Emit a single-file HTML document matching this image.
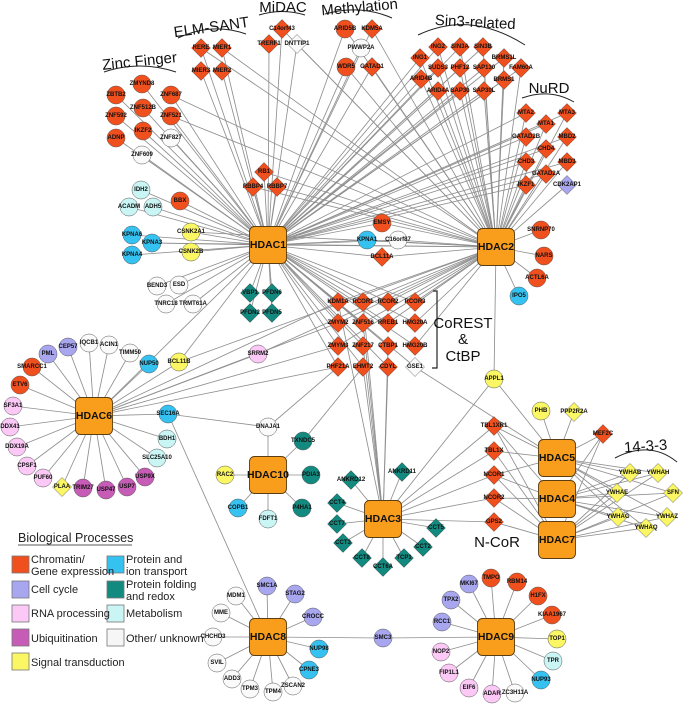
<!DOCTYPE html>
<html><head><meta charset="utf-8"><style>
html,body{margin:0;padding:0;background:#fff}
svg{display:block}
text{font-family:"Liberation Sans",sans-serif}
.n{font-size:6px;font-weight:bold;text-anchor:middle;dominant-baseline:central;fill:#111}
.h{font-size:10.5px;font-weight:bold;text-anchor:middle;dominant-baseline:central;fill:#111}
.g{font-size:15px;fill:#111}
.lg{font-size:11px;fill:#222}
</style></head><body>
<svg id="s" width="685" height="706" viewBox="0 0 685 706" xmlns="http://www.w3.org/2000/svg">
<g id="E" stroke="#8f8f8f" stroke-width="0.85" fill="none"></g>
<g id="S" stroke="#555" stroke-width="0.5"></g>
<g id="T">
<text class="h" x="268" y="245">HDAC1</text>
<text class="h" x="496" y="247">HDAC2</text>
<text class="h" x="94" y="416">HDAC6</text>
<text class="h" x="268" y="475">HDAC10</text>
<text class="h" x="383" y="519">HDAC3</text>
<text class="h" x="557" y="458">HDAC5</text>
<text class="h" x="557" y="499">HDAC4</text>
<text class="h" x="557" y="540">HDAC7</text>
<text class="h" x="268" y="637">HDAC8</text>
<text class="h" x="496" y="637">HDAC9</text>
<text class="n r" x="142" y="84">ZMYND8</text>
<text class="n r" x="116" y="95">ZBTB2</text>
<text class="n r" x="171" y="95">ZNF687</text>
<text class="n r" x="143" y="108">ZNF512B</text>
<text class="n r" x="116" y="116">ZNF592</text>
<text class="n r" x="171" y="116">ZNF521</text>
<text class="n r" x="143" y="131">IKZF2</text>
<text class="n r" x="116" y="138">ADNP</text>
<text class="n w" x="171" y="138">ZNF827</text>
<text class="n w" x="142" y="155">ZNF609</text>
<text class="n r d" x="201" y="48">RERE</text>
<text class="n r d" x="222" y="48">MIER1</text>
<text class="n r d" x="201" y="71">MIER3</text>
<text class="n r d" x="222" y="71">MIER2</text>
<text class="n r d" x="282" y="29">C14orf43</text>
<text class="n r d" x="269" y="44">TRERF1</text>
<text class="n w d" x="297" y="44">DNTTIP1</text>
<text class="n r" x="345" y="29">ARID5B</text>
<text class="n r d" x="372" y="29">KDM5A</text>
<text class="n w" x="361" y="48">PWWP2A</text>
<text class="n r" x="346" y="67">WDR5</text>
<text class="n r d" x="372" y="67">GATAD1</text>
<text class="n r d" x="438" y="47">ING2</text>
<text class="n r d" x="460" y="47">SIN3A</text>
<text class="n r d" x="483" y="47">SIN3B</text>
<text class="n r d" x="420" y="58">ING1</text>
<text class="n r d" x="438" y="68">SUDS3</text>
<text class="n r d" x="460" y="68">PHF12</text>
<text class="n r d" x="484" y="68">SAP130</text>
<text class="n r d" x="504" y="58">BRMS1L</text>
<text class="n r d" x="521" y="68">FAM60A</text>
<text class="n r d" x="421" y="79">ARID4B</text>
<text class="n r d" x="438" y="91">ARID4A</text>
<text class="n r d" x="460" y="91">SAP30</text>
<text class="n r d" x="484" y="91">SAP30L</text>
<text class="n r d" x="504" y="80">BRMS1</text>
<text class="n r d" x="526" y="113">MTA2</text>
<text class="n r d" x="567" y="113">MTA3</text>
<text class="n r d" x="546" y="124">MTA1</text>
<text class="n r d" x="526" y="137">GATAD2B</text>
<text class="n r d" x="567" y="137">MBD2</text>
<text class="n r d" x="546" y="149">CHD4</text>
<text class="n r d" x="526" y="162">CHD3</text>
<text class="n r d" x="567" y="162">MBD3</text>
<text class="n r d" x="546" y="174">GATAD2A</text>
<text class="n r d" x="526" y="185">IKZF1</text>
<text class="n c d" x="567" y="185">CDK2AP1</text>
<text class="n r" x="541" y="230">SNRNP70</text>
<text class="n r" x="544" y="256">NARS</text>
<text class="n r" x="537" y="278">ACTL6A</text>
<text class="n b" x="519" y="296">IPO5</text>
<text class="n r" x="382" y="223">EMSY</text>
<text class="n b" x="367" y="240">KPNA1</text>
<text class="n w" x="398" y="240">C16orf87</text>
<text class="n r d" x="382" y="257">BCL11A</text>
<text class="n r d" x="264" y="172">RB1</text>
<text class="n r d" x="253" y="187">RBBP4</text>
<text class="n r d" x="277" y="187">RBBP7</text>
<text class="n m" x="141" y="190">IDH2</text>
<text class="n m" x="129" y="207">ACADM</text>
<text class="n m" x="153" y="207">ADH5</text>
<text class="n r" x="180" y="201">BBX</text>
<text class="n b" x="132" y="235">KPNA6</text>
<text class="n b" x="152" y="243">KPNA3</text>
<text class="n b" x="132" y="255">KPNA4</text>
<text class="n y" x="191" y="232">CSNK2A1</text>
<text class="n y" x="191" y="252">CSNK2B</text>
<text class="n w" x="157" y="286">BEND3</text>
<text class="n w" x="179" y="285">ESD</text>
<text class="n w" x="166" y="304">TNRC18</text>
<text class="n w" x="193" y="304">TRMT61A</text>
<text class="n t d" x="250" y="293">VBP1</text>
<text class="n t d" x="272" y="293">PFDN6</text>
<text class="n t d" x="250" y="313">PFDN2</text>
<text class="n t d" x="272" y="313">PFDN5</text>
<text class="n r d" x="338" y="302">KDM1A</text>
<text class="n r d" x="363" y="302">RCOR1</text>
<text class="n r d" x="388" y="302">RCOR2</text>
<text class="n r d" x="415" y="302">RCOR3</text>
<text class="n r d" x="338" y="323">ZMYM2</text>
<text class="n r d" x="363" y="323">ZNF516</text>
<text class="n r d" x="388" y="323">RREB1</text>
<text class="n r d" x="415" y="323">HMG20A</text>
<text class="n r d" x="338" y="346">ZMYM3</text>
<text class="n r d" x="363" y="346">ZNF217</text>
<text class="n r d" x="388" y="346">CTBP1</text>
<text class="n r d" x="415" y="346">HMG20B</text>
<text class="n r d" x="338" y="367">PHF21A</text>
<text class="n r d" x="363" y="367">EHMT2</text>
<text class="n r d" x="388" y="367">CDYL</text>
<text class="n w d" x="415" y="367">GSE1</text>
<text class="n p" x="258" y="354">SRRM2</text>
<text class="n c" x="68" y="347">CEP57</text>
<text class="n w" x="89" y="343">IQCB1</text>
<text class="n w" x="109" y="345">ACIN1</text>
<text class="n w" x="130" y="353">TIMM50</text>
<text class="n b" x="149" y="364">NUP50</text>
<text class="n y" x="179" y="362">BCL11B</text>
<text class="n c" x="48" y="354">PML</text>
<text class="n r" x="32" y="367">SMARCC1</text>
<text class="n r" x="20" y="385">ETV6</text>
<text class="n p" x="13" y="406">SF3A1</text>
<text class="n p" x="10" y="427">DDX41</text>
<text class="n p" x="17" y="447">DDX19A</text>
<text class="n p" x="27" y="466">CPSF1</text>
<text class="n p" x="43" y="478">PUF60</text>
<text class="n y d" x="62" y="487">PLAA</text>
<text class="n u" x="83" y="488">TRIM27</text>
<text class="n u" x="106" y="490">USP47</text>
<text class="n u" x="127" y="487">USP7</text>
<text class="n u" x="145" y="477">USP9X</text>
<text class="n m" x="157" y="458">SLC25A10</text>
<text class="n m" x="167" y="439">BDH1</text>
<text class="n b" x="168" y="414">SEC16A</text>
<text class="n w" x="268" y="427">DNAJA1</text>
<text class="n t" x="303" y="441">TXNDC5</text>
<text class="n t" x="311" y="475">PDIA3</text>
<text class="n t" x="302" y="508">P4HA1</text>
<text class="n m" x="268" y="519">FDFT1</text>
<text class="n b" x="238" y="508">COPB1</text>
<text class="n y" x="225" y="475">RAC2</text>
<text class="n y" x="494" y="379">APPL1</text>
<text class="n y" x="541" y="411">PHB</text>
<text class="n y d" x="574" y="412">PPP2R2A</text>
<text class="n r d" x="603" y="434">MEF2C</text>
<text class="n r d" x="494" y="426">TBL1XR1</text>
<text class="n r d" x="494" y="451">TBL1X</text>
<text class="n r d" x="494" y="475">NCOR1</text>
<text class="n r d" x="494" y="498">NCOR2</text>
<text class="n r d" x="494" y="522">GPS2</text>
<text class="n t d" x="402" y="472">ANKRD11</text>
<text class="n t d" x="351" y="480">ANKRD12</text>
<text class="n t d" x="337" y="503">CCT4</text>
<text class="n t d" x="337" y="524">CCT7</text>
<text class="n t d" x="343" y="543">CCT3</text>
<text class="n t d" x="362" y="558">CCT8</text>
<text class="n t d" x="383" y="567">CCT6A</text>
<text class="n t d" x="404" y="558">TCP1</text>
<text class="n t d" x="423" y="547">CCT2</text>
<text class="n t d" x="436" y="528">CCT5</text>
<text class="n y d" x="630" y="473">YWHAB</text>
<text class="n y d" x="658" y="473">YWHAH</text>
<text class="n y d" x="617" y="493">YWHAE</text>
<text class="n y d" x="673" y="493">SFN</text>
<text class="n y d" x="618" y="517">YWHAG</text>
<text class="n y d" x="667" y="517">YWHAZ</text>
<text class="n y d" x="646" y="528">YWHAQ</text>
<text class="n c" x="267" y="586">SMC1A</text>
<text class="n c" x="295" y="594">STAG2</text>
<text class="n c" x="313" y="617">CROCC</text>
<text class="n b" x="319" y="649">NUP98</text>
<text class="n b" x="309" y="670">CPNE3</text>
<text class="n w" x="293" y="686">ZSCAN2</text>
<text class="n w" x="273" y="692">TPM4</text>
<text class="n w" x="250" y="689">TPM3</text>
<text class="n w" x="232" y="679">ADD3</text>
<text class="n w" x="217" y="663">SVIL</text>
<text class="n w" x="213" y="637">CHCHD3</text>
<text class="n w" x="221" y="613">MME</text>
<text class="n w" x="236" y="596">MDM1</text>
<text class="n c" x="383" y="638">SMC3</text>
<text class="n c" x="469" y="584">MKI67</text>
<text class="n r" x="491" y="578">TMPO</text>
<text class="n r" x="517" y="582">RBM14</text>
<text class="n r" x="538" y="596">H1FX</text>
<text class="n r" x="552" y="615">KIAA1967</text>
<text class="n y" x="557" y="639">TOP1</text>
<text class="n m" x="553" y="661">TPR</text>
<text class="n b" x="541" y="680">NUP93</text>
<text class="n w" x="515" y="693">ZC3H11A</text>
<text class="n p" x="492" y="694">ADAR</text>
<text class="n p" x="469" y="688">EIF6</text>
<text class="n p" x="449" y="673">FIP1L1</text>
<text class="n p" x="441" y="652">NOP2</text>
<text class="n c" x="442" y="622">RCC1</text>
<text class="n c" x="451" y="600">TPX2</text>
</g>
<g fill="none" stroke="#222" stroke-width="1">
<path d="M104 72 Q140 60 176 72"/>
<path d="M178 38 Q212 22 246 34"/>
<path d="M259 15 Q282 8 305 15"/>
<path d="M325 14 Q360 4 392 18"/>
<path d="M418 35 Q470 10 525 45"/>
<path d="M522 98 Q550 88 574 102"/>
<path d="M615 458 Q650 440 677 462"/>
<path d="M433 291 L437 291 L437 368 L432 368" stroke-width="1.2"/>
</g>
<text class="g" x="140" y="66" text-anchor="middle" transform="rotate(-6 140 66)">Zinc Finger</text>
<text class="g" x="212" y="32" text-anchor="middle" transform="rotate(-8 212 32)">ELM-SANT</text>
<text class="g" x="283" y="12" text-anchor="middle">MiDAC</text>
<text class="g" x="360" y="12" text-anchor="middle" transform="rotate(-5 360 12)">Methylation</text>
<text class="g" x="475" y="27" text-anchor="middle" transform="rotate(3 475 27)">Sin3-related</text>
<text class="g" x="549" y="93" text-anchor="middle">NuRD</text>
<text class="g" x="646" y="451" text-anchor="middle" transform="rotate(-4 646 451)">14-3-3</text>
<text class="g" x="463" y="328" text-anchor="middle">CoREST</text>
<text class="g" x="463" y="344" text-anchor="middle">&amp;</text>
<text class="g" x="463" y="361" text-anchor="middle">CtBP</text>
<text class="g" x="497" y="547" text-anchor="middle">N-CoR</text>
<text x="18" y="542" style="font-size:12.5px" fill="#222">Biological Processes</text>
<line x1="18" y1="545" x2="132" y2="545" stroke="#222" stroke-width="0.8"/>
<g stroke="#777" stroke-width="0.8">
<rect x="12" y="556" width="17" height="17" fill="#f0501e"/>
<rect x="12" y="581" width="17" height="17" fill="#a9a6f0"/>
<rect x="12" y="605" width="17" height="17" fill="#fcc9f7"/>
<rect x="12" y="629" width="17" height="17" fill="#c75cb6"/>
<rect x="12" y="653" width="17" height="17" fill="#fbf764"/>
<rect x="107" y="556" width="17" height="17" fill="#35c2f0"/>
<rect x="107" y="581" width="17" height="17" fill="#138a80"/>
<rect x="107" y="605" width="17" height="17" fill="#c9f5f5"/>
<rect x="107" y="629" width="17" height="17" fill="#f6f6f6"/>
</g>
<text class="lg" x="31" y="563">Chromatin/</text>
<text class="lg" x="31" y="575">Gene expression</text>
<text class="lg" x="31" y="593">Cell cycle</text>
<text class="lg" x="31" y="617">RNA processing</text>
<text class="lg" x="31" y="642">Ubiquitination</text>
<text class="lg" x="31" y="666">Signal transduction</text>
<text class="lg" x="126" y="563">Protein and</text>
<text class="lg" x="126" y="575">ion transport</text>
<text class="lg" x="126" y="588">Protein folding</text>
<text class="lg" x="126" y="600">and redox</text>
<text class="lg" x="126" y="617">Metabolism</text>
<text class="lg" x="126" y="642">Other/ unknown</text>
</svg>
<script>
(function(){
var NS="http://www.w3.org/2000/svg";
var col={r:"#f0501e",c:"#a9a6f0",p:"#fcc9f7",u:"#c75cb6",y:"#fbf764",b:"#35c2f0",t:"#138a80",m:"#c9f5f5",w:"#fafafa"};
var P={};var S=document.getElementById("S"),E=document.getElementById("E");
var ts=document.querySelectorAll("#T text");
for(var i=0;i<ts.length;i++){var t=ts[i];var x=+t.getAttribute("x"),y=+t.getAttribute("y");P[t.textContent]=[x,y];
var cl=t.getAttribute("class").split(" ");var el;
if(cl[0]=="h"){el=document.createElementNS(NS,"rect");el.setAttribute("x",x-18.5);el.setAttribute("y",y-18.5);el.setAttribute("width",37);el.setAttribute("height",37);el.setAttribute("rx",5);el.setAttribute("fill","#f99d1c");el.setAttribute("stroke","#5a3d10");el.setAttribute("stroke-width","0.9");}
else if(cl.indexOf("d")>=0){el=document.createElementNS(NS,"polygon");var a=9.5;el.setAttribute("points",(x)+","+(y-a)+" "+(x+a)+","+y+" "+x+","+(y+a)+" "+(x-a)+","+y);el.setAttribute("fill",col[cl[1]]);}
else{el=document.createElementNS(NS,"circle");el.setAttribute("cx",x);el.setAttribute("cy",y);el.setAttribute("r",9);el.setAttribute("fill",col[cl[1]]);}
S.appendChild(el);}
var L=[
"HDAC1:ZMYND8,ZBTB2,ZNF687,ZNF512B,ZNF592,ZNF521,IKZF2,ADNP,ZNF827,ZNF609,RERE,MIER1,MIER3,MIER2,C14orf43,TRERF1,DNTTIP1,ARID5B,KDM5A,PWWP2A,WDR5,GATAD1,ING2,SIN3A,SIN3B,ING1,SUDS3,PHF12,SAP130,BRMS1L,FAM60A,ARID4B,ARID4A,SAP30,SAP30L,BRMS1,MTA2,MTA3,MTA1,GATAD2B,MBD2,CHD4,CHD3,MBD3,GATAD2A,IKZF1,RB1,RBBP4,RBBP7,IDH2,ACADM,ADH5,BBX,KPNA6,KPNA3,KPNA4,CSNK2A1,CSNK2B,BEND3,ESD,TNRC18,TRMT61A,VBP1,PFDN6,PFDN2,PFDN5,EMSY,KPNA1,C16orf87,BCL11A,KDM1A,RCOR1,RCOR2,RCOR3,ZMYM2,ZNF516,RREB1,HMG20A,ZMYM3,ZNF217,CTBP1,HMG20B,PHF21A,EHMT2,CDYL,GSE1,BCL11B,HDAC6,HDAC2",
"HDAC2:MIER1,RERE,ZNF687,ZNF521,DNTTIP1,C14orf43,ARID5B,KDM5A,WDR5,GATAD1,ING2,SIN3A,SIN3B,ING1,SUDS3,PHF12,SAP130,BRMS1L,FAM60A,ARID4B,ARID4A,SAP30,SAP30L,BRMS1,MTA2,MTA3,MTA1,GATAD2B,MBD2,CHD4,CHD3,MBD3,GATAD2A,IKZF1,CDK2AP1,RB1,RBBP4,RBBP7,SNRNP70,NARS,ACTL6A,IPO5,EMSY,KPNA1,C16orf87,BCL11A,KDM1A,RCOR1,RCOR2,RCOR3,ZMYM2,ZNF516,RREB1,HMG20A,ZMYM3,HMG20B,SRRM2,APPL1,BCL11B,CSNK2A1,KPNA3",
"HDAC6:CEP57,IQCB1,ACIN1,TIMM50,NUP50,BCL11B,PML,SMARCC1,ETV6,SF3A1,DDX41,DDX19A,CPSF1,PUF60,PLAA,TRIM27,USP47,USP7,USP9X,SLC25A10,BDH1,SEC16A,ZMYM3,PHF21A,ZMYM2,SRRM2,KDM1A",
"HDAC10:DNAJA1,TXNDC5,PDIA3,P4HA1,FDFT1,COPB1,RAC2",
"HDAC3:KDM1A,RCOR1,ZNF516,ZNF217,CTBP1,CDYL,EHMT2,APPL1,TBL1XR1,TBL1X,NCOR1,NCOR2,GPS2,ANKRD11,ANKRD12,CCT4,CCT7,CCT3,CCT8,CCT6A,TCP1,CCT2,CCT5",
"HDAC5:PHB,PPP2R2A,MEF2C,TBL1XR1,TBL1X,NCOR1,APPL1,GSE1,YWHAB,YWHAH,YWHAE,SFN,YWHAG,YWHAZ,YWHAQ",
"HDAC4:TBL1XR1,NCOR1,NCOR2,MEF2C,YWHAB,YWHAH,YWHAE,SFN,YWHAG,YWHAZ,YWHAQ",
"HDAC7:TBL1XR1,TBL1X,NCOR1,NCOR2,GPS2,MEF2C,YWHAB,YWHAH,YWHAE,SFN,YWHAG,YWHAZ,YWHAQ",
"HDAC8:SMC1A,STAG2,CROCC,NUP98,CPNE3,ZSCAN2,TPM4,TPM3,ADD3,SVIL,CHCHD3,MME,MDM1,SMC3,SEC16A",
"HDAC9:MKI67,TMPO,RBM14,H1FX,KIAA1967,TOP1,TPR,NUP93,ZC3H11A,ADAR,EIF6,FIP1L1,NOP2,RCC1,TPX2,SMC3",
"DNAJA1:SEC16A,PHF21A",
"TXNDC5:EHMT2"];
L.forEach(function(s){var p=s.split(":"),a=P[p[0]];p[1].split(",").forEach(function(n){var b=P[n];if(!b)return;var l=document.createElementNS(NS,"line");l.setAttribute("x1",a[0]);l.setAttribute("y1",a[1]);l.setAttribute("x2",b[0]);l.setAttribute("y2",b[1]);E.appendChild(l);});});
})();
</script>
</body></html>
